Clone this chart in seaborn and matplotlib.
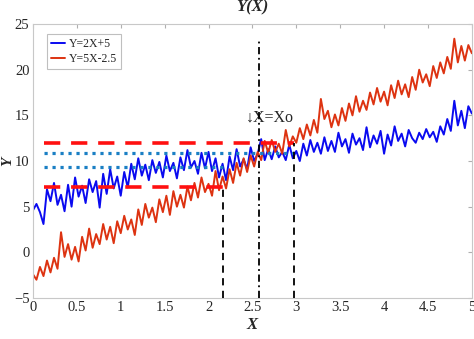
import numpy as np
import pandas as pd
import matplotlib
matplotlib.use("Agg")
import matplotlib.pyplot as plt
import seaborn as sns

# Measured signals (sampled every 0.04 on X from 0 to 5)
blue_y = [4.6, 5.3, 4.4, 3.1, 6.9, 5.6, 7.6, 5.2, 6.3, 4.5,
          7.4, 5.0, 8.2, 6.1, 7.3, 5.4, 8.0, 6.6, 7.8, 4.9,
          8.6, 6.4, 9.1, 7.0, 8.3, 6.2, 8.8, 7.1, 9.7, 8.0,
          10.3, 8.4, 9.6, 7.9, 10.1, 8.7, 9.9, 8.2, 10.6, 8.9,
          9.8, 8.1, 10.4, 9.0, 11.2, 9.3, 10.0, 8.6, 10.9, 9.2,
          11.0, 8.9, 10.3, 8.2, 9.7, 7.9, 10.5, 9.0, 11.3, 9.4,
          10.2, 9.1, 11.5, 10.0, 10.8, 12.4, 10.1, 11.3, 10.2, 11.6,
          10.4, 11.0, 10.1, 11.8, 10.3, 11.1, 10.0, 11.9, 10.6, 12.3,
          11.0, 12.0, 10.8, 12.6, 11.1, 12.2, 11.0, 13.1, 11.6, 12.4,
          10.9, 13.0, 11.8, 12.5, 11.2, 13.7, 11.5, 12.8, 11.9, 13.3,
          10.8, 12.9, 11.7, 13.8, 12.2, 13.0, 11.6, 13.4, 12.5, 12.0,
          13.1, 12.4, 13.5, 12.6, 13.2, 12.1, 13.8, 12.9, 14.6, 13.3,
          16.6, 13.9, 15.5, 13.6, 16.0, 15.2]

red_y = [-2.4, -3.0, -1.6, -2.6, -0.9, -2.2, -0.6, -1.8, 2.2, -0.5,
         0.9, -0.8, 0.6, -1.0, 1.7, 0.2, 2.6, 0.5, 2.0, 0.9,
         3.1, 1.4, 2.8, 1.0, 3.4, 2.1, 4.0, 2.5, 3.6, 1.9,
         4.7, 3.0, 5.3, 3.8, 4.9, 3.3, 5.8, 4.4, 6.2, 4.1,
         6.7, 5.0, 6.3, 4.9, 7.2, 5.7, 7.6, 6.0, 8.2, 6.6,
         7.5, 6.2, 8.9, 6.8, 8.3, 7.0, 9.1, 7.6, 9.8, 8.4,
         10.3, 8.8, 10.6, 9.4, 11.0, 10.1, 12.2, 10.9, 12.3, 11.0,
         11.9, 10.8, 13.4, 11.6, 12.7, 12.0, 13.6, 12.4, 14.0, 12.8,
         14.5, 13.1, 16.8, 14.6, 15.5, 13.7, 15.1, 13.9, 15.8, 14.4,
         16.3, 15.0, 17.1, 15.4, 16.6, 15.6, 17.5, 16.2, 18.0, 16.5,
         17.6, 16.1, 18.3, 16.9, 18.8, 17.3, 18.4, 17.0, 19.2, 17.8,
         20.0, 18.6, 19.5, 18.2, 20.4, 19.1, 20.8, 19.6, 21.4, 20.1,
         23.4, 20.8, 22.6, 21.0, 22.7, 21.8]

series_names = ["Y=2X+5", "Y=5X-2.5"]

# Reference levels and crossing positions
red_levels = [12.0, 7.2]
blue_levels = [10.9, 9.3]
level_ends = [2.97, 2.16]
x_marks = [2.16, 2.97]
x_mark_tops = [7.2, 12.0]
x_o = 2.58
x_ticks = [0, 0.5, 1, 1.5, 2, 2.5, 3, 3.5, 4, 4.5, 5]
y_ticks = [-5, 0, 5, 10, 15, 20, 25]

x = np.linspace(0, 5, len(blue_y))
df = pd.DataFrame({
    "X": np.concatenate([x, x]),
    "Y": blue_y + red_y,
    "series": [series_names[0]] * len(blue_y) + [series_names[1]] * len(red_y),
})

sns.set_style("white")
plt.rcParams["font.family"] = ["Liberation Serif", "DejaVu Serif"]

fig = plt.figure(figsize=(4.74, 3.39), dpi=100)
ax = fig.add_axes([0.0695, 0.121, 0.926, 0.808])

sns.lineplot(data=df, x="X", y="Y", hue="series",
             palette={series_names[0]: "#0a0af0", series_names[1]: "#dd3311"},
             linewidth=1.4, ax=ax, estimator=None, sort=False)

# horizontal reference levels
for lvl, end in zip(red_levels, level_ends):
    ax.plot([0.13, end], [lvl, lvl], color="#ff1010", lw=2.6,
            dashes=(4.5, 3), zorder=4)
for lvl, end in zip(blue_levels, level_ends):
    ax.plot([0.13, end], [lvl, lvl], color="#1a7fc4", lw=2.3,
            linestyle=(0, (1, 1.5)), zorder=4)

# vertical markers
for xm, top in zip(x_marks, x_mark_tops):
    ax.plot([xm, xm], [-5, top], color="black", lw=1.3, dashes=(4, 3), zorder=5)
ax.plot([x_o, x_o], [-5, 23.2], color="black", lw=1.3,
        linestyle=(0, (4, 2, 1, 2)), zorder=5)
ax.text(2.43, 14.8, "\u2193X=Xo", fontsize=11.5, va="center", ha="left",
        family=["Liberation Serif", "DejaVu Sans"])

ax.set_xlim(0, 5)
ax.set_ylim(-5, 25)
ax.set_xticks(x_ticks)
ax.set_xticklabels([f"{t:g}" for t in x_ticks])
ax.set_yticks(y_ticks)
ax.tick_params(direction="in", length=3, color="#b0b0b0", labelsize=10.5,
               top=True, right=True, pad=2.5)
for s in ax.spines.values():
    s.set_color("#c8c8c8")
    s.set_linewidth(0.8)

ax.set_title("Y(X)", fontsize=12, fontweight="bold", fontstyle="italic", pad=9)
ax.set_xlabel("X", fontsize=12, fontweight="bold", fontstyle="italic", labelpad=2)
ax.set_ylabel("Y", fontsize=11, fontweight="bold", fontstyle="italic")
ax.yaxis.set_label_coords(-0.043, 0.5)

leg = ax.legend(loc="upper left", fontsize=8.5, handlelength=1.2,
                handletextpad=0.3, borderpad=0.35, labelspacing=0.25,
                fancybox=False, frameon=True, bbox_to_anchor=(0.018, 0.985))
leg.get_frame().set_edgecolor("#b0b0b0")
leg.get_frame().set_linewidth(0.8)

fig.savefig("out.png", dpi=100)
